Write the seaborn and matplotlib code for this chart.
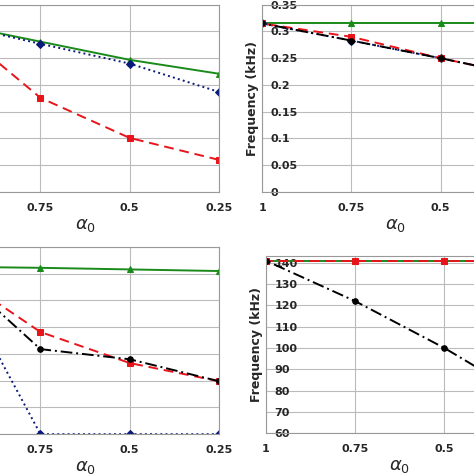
import matplotlib.pyplot as plt
import seaborn as sns

alpha = [1, 0.75, 0.5, 0.25]

# panel (a) top-left
a_green = [0.315, 0.281, 0.247, 0.221]
a_blue = [0.315, 0.277, 0.240, 0.187]
a_red = [0.315, 0.176, 0.101, 0.060]
# panel (b) top-right
b_green = [0.315, 0.315, 0.315, 0.315]
b_blue = [0.315, 0.283, 0.250, 0.215]
b_black = [0.315, 0.283, 0.250, 0.215]
b_red = [0.315, 0.290, 0.250, 0.215]
# panel (c) bottom-left
c_green = [0.313, 0.311, 0.308, 0.305]
c_red = [0.304, 0.191, 0.133, 0.099]
c_black = [0.310, 0.159, 0.140, 0.099]
c_blue = [0.310, 0.0, 0.0, 0.0]
# panel (d) bottom-right (kHz)
d_green = [141, 141, 141, 141]
d_red = [141, 141, 141, 141]
d_black = [141, 122, 100, 75]

xticks = [1, 0.75, 0.5, 0.25]
xticklabels = ["1", "0.75", "0.5", "0.25"]

sns.set_style("white")
fig = plt.figure(figsize=(4.74, 4.74), dpi=100)

styles = {
    "green": dict(color="#1a8a1a", ls="-", marker="^"),
    "blue": dict(color="#0a1a7a", ls=":", marker="D"),
    "red": dict(color="#e8141a", ls=(0, (5, 3)), marker="s"),
    "black": dict(color="black", ls=(0, (6, 2, 1, 2)), marker="o"),
}


def draw(ax, series, ylim, yticks, ylabels, ylabel=None):
    for key, vals in series:
        st = styles[key]
        sns.lineplot(x=alpha, y=vals, ax=ax, color=st["color"], linestyle=st["ls"],
                     marker=st["marker"], markersize=4, markeredgecolor=st["color"],
                     linewidth=1.4)
    ax.set_xlim(1, 0.25)
    ax.set_ylim(*ylim)
    ax.set_xticks(xticks)
    ax.set_xticklabels(xticklabels, fontsize=8, fontweight="bold")
    ax.set_yticks(yticks)
    ax.set_yticklabels(ylabels, fontsize=8, fontweight="bold", ha="left")
    ax.grid(True, color="#bbbbbb", lw=0.8)
    for s in ax.spines.values():
        s.set_color("#999999")
    ax.set_xlabel(r"$\alpha_0$", fontsize=13, labelpad=2)
    if ylabel:
        ax.set_ylabel(ylabel, fontsize=9, fontweight="bold", labelpad=2)
    ax.tick_params(axis="x", length=0, pad=8)
    ax.tick_params(axis="y", length=0, pad=-6)


yt = [0, 0.05, 0.1, 0.15, 0.2, 0.25, 0.3, 0.35]
yl = ["0", "0.05", "0.1", "0.15", "0.2", "0.25", "0.3", "0.35"]
blank = [""] * len(yt)

ax1 = fig.add_axes([-0.103, 0.595, 0.565, 0.395])
draw(ax1, [("green", a_green), ("blue", a_blue), ("red", a_red)], (0, 0.35), yt, blank)

ax2 = fig.add_axes([0.553, 0.595, 0.565, 0.395])
draw(ax2, [("green", b_green), ("blue", b_blue), ("red", b_red), ("black", b_black)],
     (0, 0.35), yt, yl, "Frequency (kHz)")

ax3 = fig.add_axes([-0.103, 0.084, 0.565, 0.395])
draw(ax3, [("green", c_green), ("red", c_red), ("black", c_black), ("blue", c_blue)],
     (0, 0.35), yt, blank)

ax4 = fig.add_axes([0.561, 0.086, 0.565, 0.373])
yt4 = [60, 70, 80, 90, 100, 110, 120, 130, 140]
draw(ax4, [("green", d_green), ("red", d_red), ("black", d_black)],
     (60, 143), yt4, [str(v) for v in yt4], "Frequency (kHz)")

fig.savefig("out.png", dpi=100)
